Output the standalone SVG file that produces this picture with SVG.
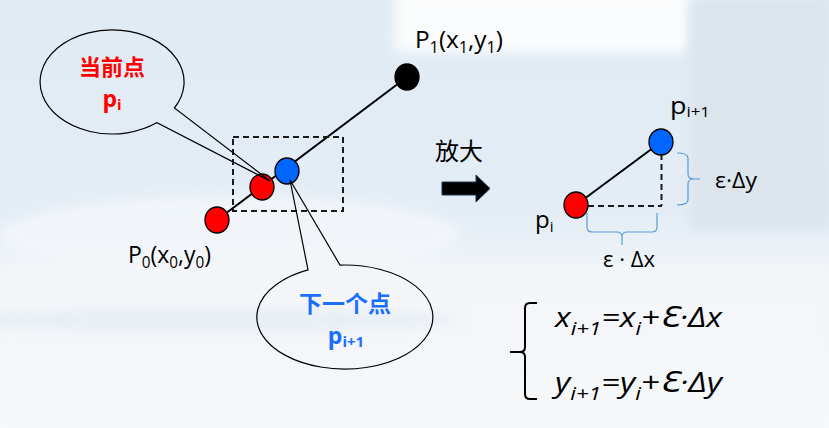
<svg xmlns="http://www.w3.org/2000/svg" width="829" height="428" viewBox="0 0 829 428">
<style>
.t{font-family:"Open Sans","Liberation Sans",sans-serif;fill:#000}
.cj{font-family:"Noto Sans CJK SC","Noto Sans",sans-serif}
.b{font-weight:bold}
.f{font-family:"Open Sans","DejaVu Sans",sans-serif;font-style:italic;font-size:28px;fill:#000}
.dot{stroke:#000;stroke-width:1.3}
.ln{stroke:#000;stroke-width:2;fill:none}
.dash{stroke:#1a1a1a;stroke-width:2;fill:none;stroke-dasharray:6 4}
.br{stroke:#5b9bd5;stroke-width:1.2;fill:none}
.co{stroke:#000;stroke-width:1.2;fill:none}
</style>
<defs>
<linearGradient id="bg" x1="0" y1="0" x2="0" y2="1">
<stop offset="0" stop-color="#e1ebf3"/>
<stop offset="0.5" stop-color="#e4edf5"/>
<stop offset="0.62" stop-color="#eef3f8"/>
<stop offset="1" stop-color="#f7f9fb"/>
</linearGradient>
<filter id="bl" x="-20%" y="-20%" width="140%" height="140%"><feGaussianBlur stdDeviation="6"/></filter>
</defs>
<g id="background">
<rect width="829" height="428" fill="url(#bg)"/>
<rect x="395" y="-10" width="295" height="62" fill="#fbfcfd" filter="url(#bl)"/>
<rect x="690" y="0" width="139" height="230" fill="#dce4ec" filter="url(#bl)"/>
<ellipse cx="230" cy="235" rx="230" ry="40" fill="#f4f7fa" opacity="0.8" filter="url(#bl)"/>
<rect x="0" y="265" width="829" height="170" fill="#f5f7f9" opacity="0.8" filter="url(#bl)"/>
<ellipse cx="200" cy="320" rx="260" ry="12" fill="#e3ecf4" opacity="0.7" filter="url(#bl)"/>
</g>
<g id="connectors">
<line class="ln" x1="217" y1="220" x2="407" y2="77"/>
<rect class="dash" x="233" y="137" width="110" height="74"/>
<line class="ln" x1="576" y1="205" x2="661" y2="142"/>
<path class="dash" d="M588 206H662M661.5 154V206"/>
<polygon points="442,182 476,182 476,175 490,188.5 476,202 476,195 442,195" fill="#000" stroke="#1e3552" stroke-width="1"/>
<path class="br" d="M677 153Q688 153 688 158V174Q688 179 694 179H700M694 179Q688 179 688 184V200Q688 205 677 205"/>
<path class="br" d="M587 213V227Q587 232 592 232H617Q622 232 622 237V245M622 237Q622 232 627 232H652Q657 232 657 227V213"/>
<path class="ln" d="M537 303H530Q525 303 525 308V347Q525 352 520 352H510M520 352Q525 352 525 357V394Q525 399 530 399H537"/>
</g>
<g id="node-p0">
<ellipse class="dot" cx="217" cy="220" rx="12" ry="13" fill="#ff0000"/>
<text class="t" x="128" y="263" font-size="24" textLength="83" lengthAdjust="spacingAndGlyphs">P<tspan font-size="16" dy="5">0</tspan><tspan dy="-5">(x</tspan><tspan font-size="16" dy="5">0</tspan><tspan dy="-5">,y</tspan><tspan font-size="16" dy="5">0</tspan><tspan dy="-5">)</tspan></text>
</g>
<g id="node-pi">
<ellipse class="dot" cx="262" cy="187" rx="12" ry="13" fill="#ff0000"/>
</g>
<g id="node-pi1">
<ellipse class="dot" cx="287" cy="171" rx="12" ry="13" fill="#0066ff"/>
</g>
<g id="node-p1">
<ellipse class="dot" cx="407" cy="77" rx="12" ry="13" fill="#000"/>
<text class="t" x="415" y="48" font-size="24" textLength="88" lengthAdjust="spacingAndGlyphs">P<tspan font-size="16" dy="5">1</tspan><tspan dy="-5">(x</tspan><tspan font-size="16" dy="5">1</tspan><tspan dy="-5">,y</tspan><tspan font-size="16" dy="5">1</tspan><tspan dy="-5">)</tspan></text>
</g>
<g id="callout-current">
<path class="co" d="M157 122.6A72 52 0 1 1 174.4 108L270 181Z"/>
<text class="cj b" x="112" y="75" font-size="22" fill="#ff0000" text-anchor="middle">当前点</text>
<text class="t b" x="112" y="107" font-size="23" text-anchor="middle" style="fill:#ff0000">p<tspan font-size="15" dy="3">i</tspan></text>
</g>
<g id="callout-next">
<path class="co" d="M340 265.1A88 52 0 1 1 308 269.8L290 180Z"/>
<text class="cj b" x="345" y="312" font-size="23" fill="#1a6fff" text-anchor="middle">下一个点</text>
<text class="t b" x="346" y="344" font-size="23" text-anchor="middle" style="fill:#1a6fff">p<tspan font-size="15" dy="3">i+1</tspan></text>
</g>
<g id="label-zoom">
<text class="cj" x="435" y="160" font-size="24" fill="#000">放大</text>
</g>
<g id="detail-pi">
<ellipse class="dot" cx="576" cy="205" rx="12" ry="13" fill="#ff0000"/>
<text class="t" x="535" y="228" font-size="24">p<tspan font-size="15" dy="4">i</tspan></text>
</g>
<g id="detail-pi1">
<ellipse class="dot" cx="661" cy="142" rx="12" ry="13" fill="#0066ff"/>
<text class="t" x="670" y="114" font-size="24" textLength="40" lengthAdjust="spacingAndGlyphs">p<tspan font-size="15" dy="3">i+1</tspan></text>
</g>
<g id="label-dy">
<text class="t" x="715" y="188" font-size="22" textLength="42" lengthAdjust="spacingAndGlyphs">ε·Δy</text>
</g>
<g id="label-dx">
<text class="t" x="603" y="267" font-size="22" textLength="52" lengthAdjust="spacingAndGlyphs">ε · Δx</text>
</g>
<g id="formulas">
<text class="f" x="555" y="327" textLength="167" lengthAdjust="spacingAndGlyphs">x<tspan font-size="19" dy="8">i+1</tspan><tspan dy="-8">=x</tspan><tspan font-size="19" dy="8">i</tspan><tspan dy="-8">+Ɛ·Δx</tspan></text>
<text class="f" x="555" y="392" textLength="167" lengthAdjust="spacingAndGlyphs">y<tspan font-size="19" dy="8">i+1</tspan><tspan dy="-8">=y</tspan><tspan font-size="19" dy="8">i</tspan><tspan dy="-8">+Ɛ·Δy</tspan></text>
</g>
</svg>
